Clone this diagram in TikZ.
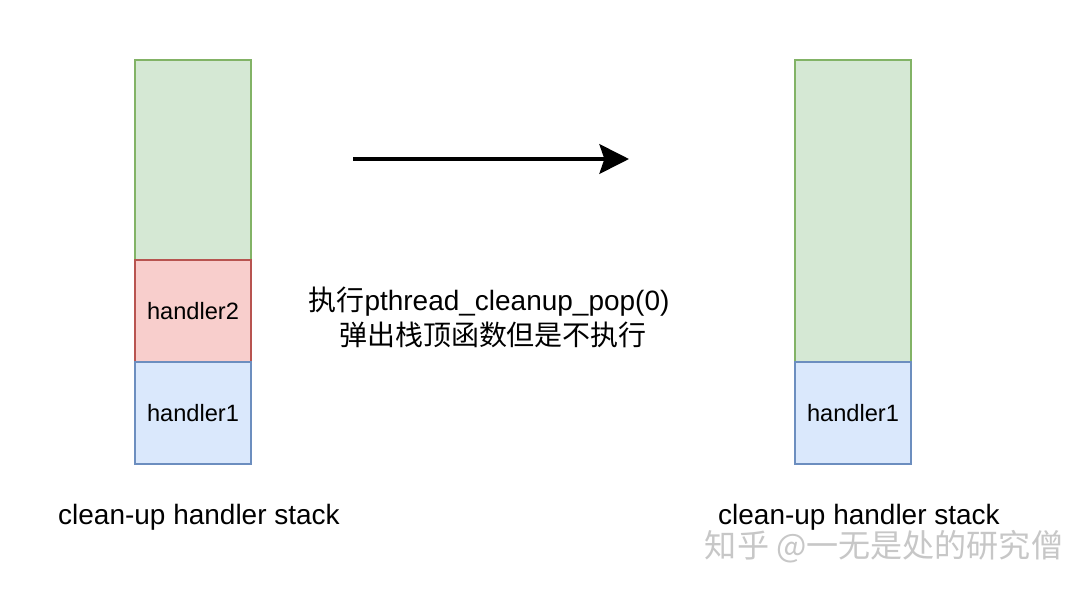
\documentclass[tikz,border=0pt]{standalone}
\usepackage{fontspec}
\setmainfont{Liberation Sans}
\newfontfamily\cjk{Noto Sans CJK SC}
\usetikzlibrary{arrows.meta}
\definecolor{greenfill}{HTML}{D5E8D4}
\definecolor{greenline}{HTML}{82B366}
\definecolor{redfill}{HTML}{F8CECC}
\definecolor{redline}{HTML}{B85450}
\definecolor{bluefill}{HTML}{DAE8FC}
\definecolor{blueline}{HTML}{6C8EBF}
\tikzset{
  slot/.style={rectangle, inner sep=0pt, minimum width=2.9cm, line width=0.9pt,
    font=\fontsize{16.8}{20}\selectfont},
  freeslot/.style={slot, fill=greenfill, draw=greenline},
  topslot/.style={slot, fill=redfill, draw=redline},
  baseslot/.style={slot, fill=bluefill, draw=blueline},
  caption/.style={font=\fontsize{19.9}{24}\selectfont},
}
\begin{document}
\begin{tikzpicture}[x=0.025cm, y=-0.025cm]
			\useasboundingbox[fill=white] (0,0) rectangle (1090,592);
			% stack before the pop
			\node[freeslot, minimum height=5cm] (lfree) at (193,160) {};
			\node[topslot, minimum height=2.55cm] (lh2) at (193,311) {handler2};
			\node[baseslot, minimum height=2.55cm] (lh1) at (193,413) {handler1};
			\node[caption] (lcap) at (199,517) {clean-up handler stack};
			% stack after the pop
			\node[freeslot, minimum height=7.55cm] (rfree) at (853,211) {};
			\node[baseslot, minimum height=2.55cm] (rh1) at (853,413) {handler1};
			\node[caption] (rcap) at (859,517) {clean-up handler stack};
			% the step
			\coordinate (from) at (353,159);
			\coordinate (to) at (629,159);
			\draw[line width=2.8pt, -{Stealth[length=21pt, width=21pt, inset=3.5pt]}] (from) -- (to);
			\node[caption, align=center] (step) at (489,317)
				{{\cjk 执行}pthread\_cleanup\_pop(0)\\[1pt] \hspace*{0.2cm}{\cjk 弹出栈顶函数但是不执行}};
			\node[font=\cjk\fontsize{22.8}{26}\selectfont, text=black!22] (mark) at (884,547) {知乎 @一无是处的研究僧};
		\end{tikzpicture}
\end{document}
